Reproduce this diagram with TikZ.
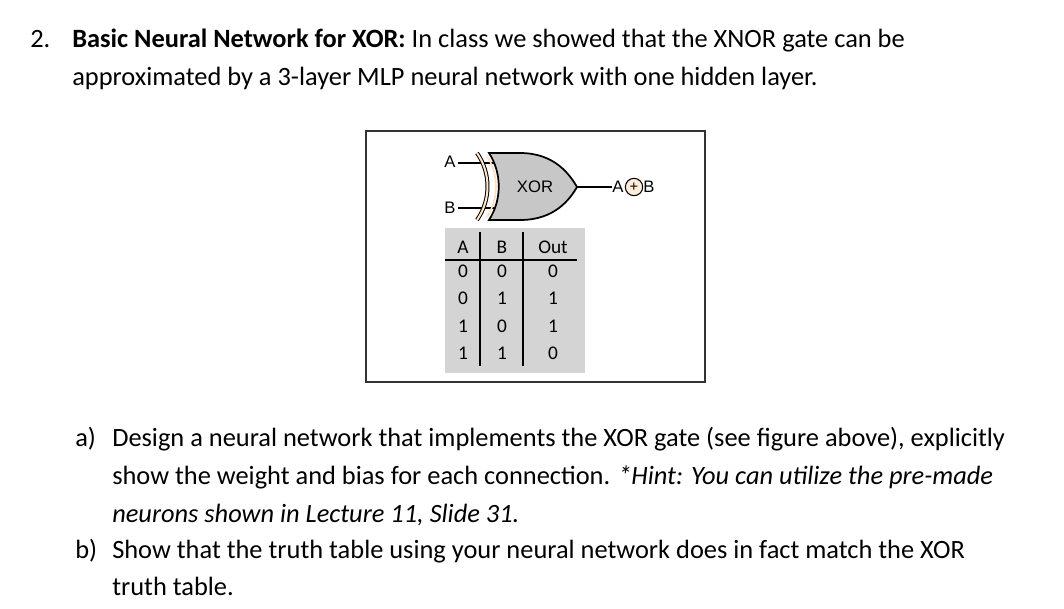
\documentclass[tikz,border=0pt]{standalone}
\usepackage{fontspec}
\setmainfont{Carlito}
\newfontfamily\gatefont{Liberation Sans}
\begin{document}
\begin{tikzpicture}[x=0.75pt,y=-0.75pt,
  txt/.style={anchor=base west,inner sep=0pt,font=\fontsize{19.8}{22}\selectfont},
  gl/.style={inner sep=0pt,font=\gatefont\fontsize{12.5}{14}\selectfont},
  tl/.style={inner sep=0pt,font=\fontsize{14.5}{16}\selectfont}]
\useasboundingbox (0,0) rectangle (1064,608);
\fill[white] (0,0) rectangle (1064,608);
% text
\node[txt] (n2) at (30,47) {2.};
\node[txt] (l1) at (72,47) {\textbf{Basic Neural Network for XOR:} In class we showed that the XNOR gate can be};
\node[txt] (l2) at (72,85) {approximated by a 3-layer MLP neural network with one hidden layer.};
\node[txt] (na) at (75,446) {a)};
\node[txt] (a1) at (112,446) {Design a neural network that implements the XOR gate (see figure above), explicitly};
\node[txt] (a2) at (112,484) {show the weight and bias for each connection. \textit{*Hint: You can utilize the pre-made}};
\node[txt] (a3) at (112,522) {\textit{neurons shown in Lecture 11, Slide 31.}};
\node[txt] (nb) at (75,558) {b)};
\node[txt] (b1) at (112,558) {Show that the truth table using your neural network does in fact match the XOR};
\node[txt] (b2) at (112,595) {truth table.};
% frame
\draw[line width=1.2pt,draw=black!80] (366,131) rectangle (705,382);
% table background
\fill[black!17] (445,228) rectangle (585,373);
\draw[line width=0.8pt] (445,260) -- (577,260);
\draw[line width=0.8pt] (480,232) -- (480,366);
\draw[line width=0.8pt] (523,232) -- (523,366);
\node[tl] (hA) at (463,247) {A};
\node[tl] (hB) at (502,247) {B};
\node[tl] (hO) at (553,247) {Out};
\foreach \y/\a/\b/\o in {271/0/0/0,298/0/1/1,326/1/0/1,353/1/1/0}{
  \node[tl] at (463,\y) {\a};
  \node[tl] at (502,\y) {\b};
  \node[tl] at (553,\y) {\o};
}
% gate
\node[gl] (A) at (450,162) {A};
\node[gl] (B) at (450,208) {B};
\coordinate (ain) at (494,163);
\coordinate (bin) at (494,208);
\draw[line width=1.2pt] (A.east)+(2,1) -- (ain);
\draw[line width=1.2pt] (B.east)+(2,0) -- (bin);
\draw[line width=3pt,draw=black] (477,153) .. controls (491,173) and (491,200) .. (477,220);
\draw[line width=1.5pt,draw=orange!20] (477,153) .. controls (491,173) and (491,200) .. (477,220);
\draw[line width=1.3pt,fill=black!22] (489,153) -- (520,153) .. controls (555,153) and (570,175) .. (577,187)
  .. controls (570,199) and (555,220) .. (520,220) -- (489,220) .. controls (502,200) and (502,173) .. (489,153) -- cycle;
\draw[line width=1.2pt,draw=orange!25] (487,156) .. controls (499,175) and (499,198) .. (487,217);
\node[gl] (xor) at (535,187) {XOR};
\coordinate (tip) at (577,187);
\node[gl,anchor=west] (oa) at (612,187) {A};
\node[draw,circle,line width=0.8pt,fill=orange!15,minimum size=13pt,inner sep=0pt,font=\gatefont\fontsize{11}{12}\selectfont] (op) at (634,187) {+};
\node[gl,anchor=west] (ob) at (643,187) {B};
\draw[line width=1.2pt] (tip) -- (oa.west);
\end{tikzpicture}
\end{document}
